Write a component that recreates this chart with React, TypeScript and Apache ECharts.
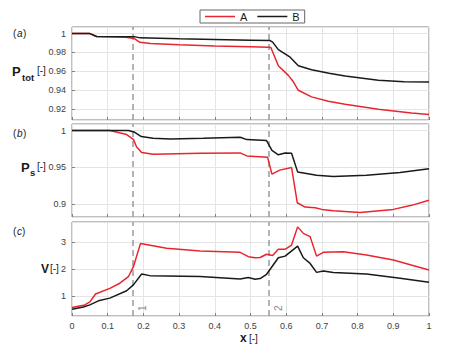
import React, { useEffect, useRef } from "react";
import * as echarts from "echarts";

// Panel (a): P_tot
const ptotA: [number, number][] = [
  [0, 1.0], [0.05, 1.0], [0.069, 0.997], [0.1, 0.9968], [0.15, 0.9962], [0.175, 0.9948],
  [0.19, 0.9908], [0.22, 0.9895], [0.3, 0.9882], [0.4, 0.987], [0.5, 0.986], [0.55, 0.9855],
  [0.557, 0.9853], [0.578, 0.966], [0.606, 0.9558], [0.62, 0.949], [0.634, 0.94], [0.671, 0.933],
  [0.718, 0.9284], [0.765, 0.9253], [0.858, 0.92], [0.951, 0.916], [1.0, 0.9144],
];
const ptotB: [number, number][] = [
  [0, 1.0], [0.05, 1.0], [0.069, 0.997], [0.175, 0.9968], [0.19, 0.9955], [0.3, 0.9945],
  [0.4, 0.9937], [0.5, 0.993], [0.555, 0.9926], [0.562, 0.991], [0.578, 0.983], [0.611, 0.975],
  [0.634, 0.966], [0.671, 0.9618], [0.72, 0.958], [0.765, 0.955], [0.858, 0.9505], [0.93, 0.949],
  [1.0, 0.9488],
];
// Panel (b): P_s
const psA: [number, number][] = [
  [0, 1.0], [0.106, 1.0], [0.153, 0.9946], [0.172, 0.988], [0.181, 0.9777], [0.195, 0.97],
  [0.228, 0.9677], [0.359, 0.969], [0.471, 0.9695], [0.49, 0.9654], [0.548, 0.9635], [0.56, 0.9405],
  [0.582, 0.946], [0.615, 0.9496], [0.631, 0.9015], [0.653, 0.8955], [0.681, 0.8946], [0.7, 0.8924],
  [0.732, 0.8905], [0.807, 0.8883], [0.9, 0.8924], [0.951, 0.8979], [1.0, 0.905],
];
const psB: [number, number][] = [
  [0, 1.0], [0.158, 1.0], [0.176, 0.9977], [0.194, 0.9918], [0.227, 0.9895], [0.275, 0.9886],
  [0.368, 0.9895], [0.471, 0.9908], [0.49, 0.9877], [0.545, 0.9864], [0.56, 0.973], [0.578, 0.967],
  [0.597, 0.9695], [0.615, 0.969], [0.632, 0.9436], [0.685, 0.939], [0.732, 0.9373], [0.825, 0.939],
  [0.919, 0.9428], [1.0, 0.948],
];
// Panel (c): V
const vA: [number, number][] = [
  [0, 0.58], [0.036, 0.68], [0.05, 0.79], [0.066, 1.08], [0.106, 1.29], [0.134, 1.48],
  [0.158, 1.72], [0.172, 2.09], [0.192, 2.95], [0.265, 2.77], [0.359, 2.67], [0.471, 2.62],
  [0.494, 2.46], [0.513, 2.42], [0.527, 2.43], [0.545, 2.55], [0.562, 2.5], [0.578, 2.73],
  [0.597, 2.73], [0.615, 2.89], [0.632, 3.56], [0.648, 3.32], [0.667, 3.2], [0.685, 2.48],
  [0.704, 2.62], [0.76, 2.64], [0.825, 2.52], [0.9, 2.34], [1.0, 1.97],
];
const vB: [number, number][] = [
  [0, 0.52], [0.032, 0.6], [0.05, 0.68], [0.074, 0.83], [0.106, 0.93], [0.153, 1.2],
  [0.172, 1.42], [0.195, 1.82], [0.218, 1.76], [0.359, 1.73], [0.471, 1.64], [0.494, 1.69],
  [0.513, 1.63], [0.527, 1.65], [0.545, 1.81], [0.578, 2.42], [0.597, 2.48], [0.632, 2.85],
  [0.648, 2.42], [0.667, 2.21], [0.685, 1.88], [0.704, 1.93], [0.732, 1.88], [0.825, 1.82],
  [0.919, 1.66], [1.0, 1.52],
];

const seriesNames = ["A", "B"];
const stationX = [0.175, 0.55];
const stationLabels = ["1", "2"];
const yRanges: [number, number][] = [
  [0.9085, 1.007],
  [0.882, 1.009],
  [0.27, 3.74],
];
const ySplit = [5, 3, 3];

const RED = "#e8262d";
const BLACK = "#1a1a1a";
const FONT = "'Liberation Sans', Arial, sans-serif";
const GRAY = "#808080";

export default function App() {
  const ref = useRef<HTMLDivElement>(null);
  useEffect(() => {
    if (!ref.current) return;
    const chart = echarts.init(ref.current, undefined, { renderer: "svg" });
    const grids = [
      { left: 72, top: 27, width: 357, height: 93 },
      { left: 72, top: 124, width: 357, height: 93 },
      { left: 72, top: 222, width: 357, height: 94 },
    ].map((g) => ({ ...g, show: true, borderColor: GRAY, borderWidth: 1, backgroundColor: "#fff" }));

    const xAxes = [0, 1, 2].map((i) => ({
      type: "value",
      gridIndex: i,
      min: 0,
      max: 1,
      interval: 0.1,
      axisLine: { show: false },
      axisTick: { show: true, inside: true, length: 3, lineStyle: { color: GRAY } },
      axisLabel: {
        show: i === 2,
        fontSize: 9,
        color: "#404040",
        fontFamily: FONT,
        margin: 5,
      },
      splitLine: { show: true, lineStyle: { color: "#e4e4e4", width: 1 } },
    }));
    const yAxes = [0, 1, 2].map((i) => ({
      type: "value",
      gridIndex: i,
      min: yRanges[i][0],
      max: yRanges[i][1],
      splitNumber: ySplit[i],
      axisLine: { show: false },
      axisTick: { show: true, inside: true, length: 3, lineStyle: { color: GRAY } },
      axisLabel: {
        fontSize: 9,
        color: "#404040",
        fontFamily: FONT,
        margin: 6,
        showMinLabel: false,
        showMaxLabel: false,
      },
      splitLine: { show: true, lineStyle: { color: "#e4e4e4", width: 1 } },
    }));

    const panelData = [
      [ptotA, ptotB],
      [psA, psB],
      [vA, vB],
    ];
    const series: any[] = [];
    panelData.forEach((pair, gi) => {
      pair.forEach((d, si) => {
        const s: any = {
          name: seriesNames[si],
          type: "line",
          xAxisIndex: gi,
          yAxisIndex: gi,
          data: d,
          symbol: "none",
          showSymbol: false,
          lineStyle: { width: 1.5, color: si === 0 ? RED : BLACK },
          itemStyle: { color: si === 0 ? RED : BLACK },
          z: 3,
        };
        if (si === 0) {
          s.markLine = {
            silent: true,
            symbol: "none",
            z: 2,
            lineStyle: { type: [6, 4], color: "#9a9a9a", width: 1.5 },
            label:
              gi === 2
                ? {
                    show: true,
                    formatter: "{b}",
                    position: "insideStartBottom",
                    color: "#8a8a8a",
                    fontSize: 10,
                    fontFamily: FONT,
                    distance: 5,
                  }
                : { show: false },
            data: stationX.map((x, k) => ({ xAxis: x, name: stationLabels[k] })),
          };
        }
        series.push(s);
      });
    });

    const t = (text: string, x: number, y: number, size: number, bold: boolean, extra: any = {}) => ({
      type: "text",
      x,
      y,
      style: {
        text,
        fontSize: size,
        fontWeight: bold ? "bold" : "normal",
        fontFamily: FONT,
        fill: "#1a1a1a",
        align: "left",
        verticalAlign: "middle",
        ...extra,
      },
    });

    chart.setOption({
      animation: false,
      backgroundColor: "#fff",
      legend: {
        data: seriesNames.map((n) => ({ name: n, icon: "rect" })),
        top: 10,
        left: 200,
        orient: "horizontal",
        padding: [1, 5],
        itemWidth: 30,
        itemHeight: 1.5,
        itemGap: 10,
        borderColor: "#666",
        borderWidth: 1,
        textStyle: { fontSize: 11, color: "#1a1a1a", fontFamily: FONT },
      },
      grid: grids,
      xAxis: xAxes,
      yAxis: yAxes,
      series,
      graphic: [
        // panel letters
        t("(", 13, 33, 10, false),
        t("a", 17, 33, 10, false, { fontStyle: "italic" }),
        t(")", 23, 33, 10, false),
        t("(", 13, 133, 10, false),
        t("b", 17, 133, 10, false, { fontStyle: "italic" }),
        t(")", 23, 133, 10, false),
        t("(", 13, 231, 10, false),
        t("c", 17, 231, 10, false, { fontStyle: "italic" }),
        t(")", 22, 231, 10, false),
        // P_tot [-]
        t("P", 12, 71, 13, true),
        t("tot", 22, 77, 9.5, true),
        t("[-]", 37, 70, 10, false),
        // P_s [-]
        t("P", 21, 167, 13, true),
        t("s", 30, 172, 9.5, true),
        t("[-]", 37, 166, 10, false),
        // V [-]
        t("V", 41, 269, 12, true),
        t("[-]", 50, 268, 10, false),
        // x [-]
        t("x", 240, 338, 12, true),
        t("[-]", 249, 338, 10, false),
      ],
    });
    return () => chart.dispose();
  }, []);
  return (
    <div
      ref={ref}
      style={{ position: "fixed", left: 0, top: 0, width: 474, height: 355, background: "#fff" }}
    />
  );
}
